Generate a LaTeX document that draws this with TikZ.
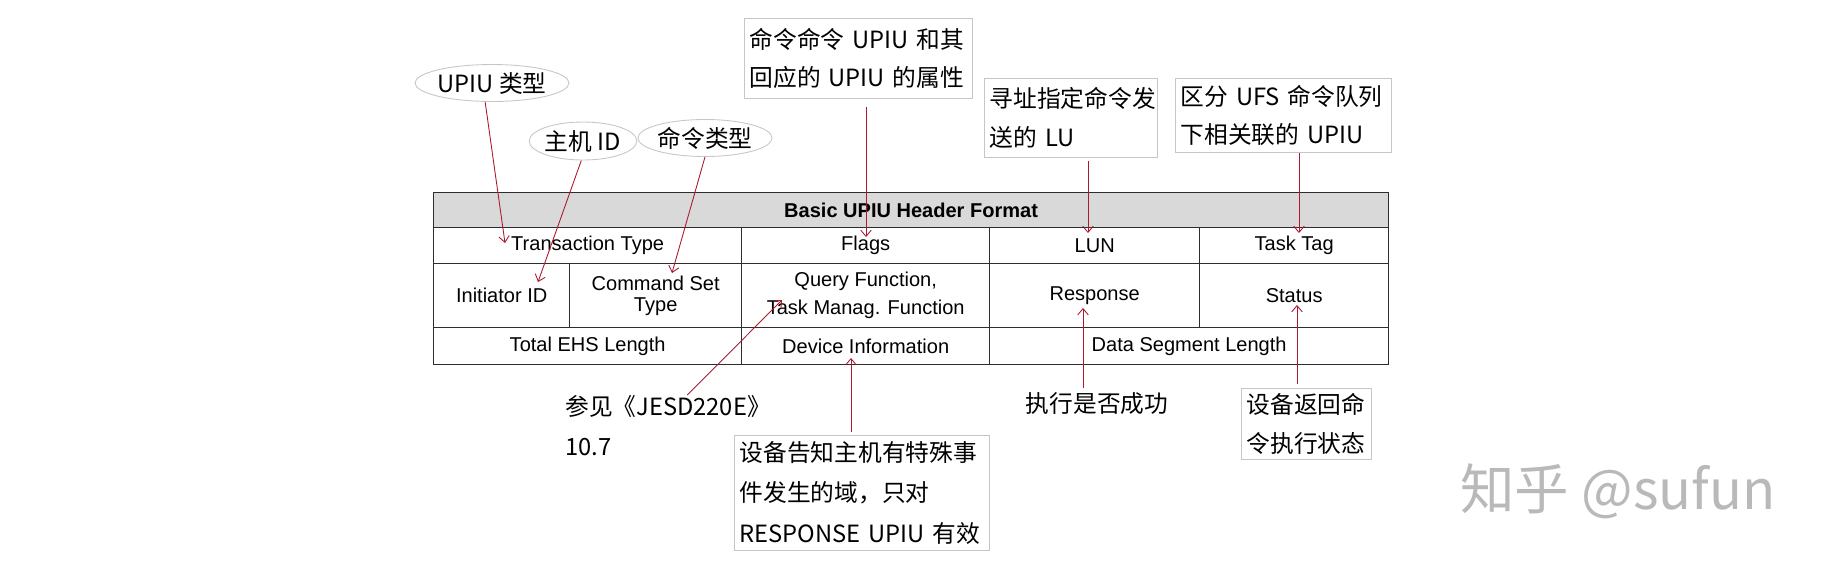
\documentclass[tikz,border=0pt]{standalone}
\usepackage{fontspec}
\setmainfont{Liberation Sans}
\newfontfamily\cjk{Noto Sans CJK SC}
\usetikzlibrary{arrows.meta, positioning, shapes.geometric, calc}

\definecolor{arrowred}{RGB}{170,25,45}
\definecolor{tabline}{RGB}{45,45,45}
\definecolor{headgray}{RGB}{217,217,217}
\newcommand{\tabfont}{\fontsize{11.4}{13}\selectfont}
\newcommand{\notefont}{\cjk\fontsize{13.5}{22}\selectfont}

\tikzset{
  cell/.style={draw=tabline, line width=0.8pt, anchor=north west, inner sep=0pt, align=center, font=\tabfont},
  notebox/.style={draw=gray!45, line width=0.5pt, anchor=north west, inner sep=3pt, align=left, font=\notefont},
  tagoval/.style={ellipse, draw=gray!45, line width=0.5pt, inner sep=0pt, font=\notefont},
  callout/.style={draw=arrowred, line width=0.5pt, -{Straight Barb[length=3.5pt,width=6pt]}}
}

\begin{document}
\begin{tikzpicture}[x=0.02cm, y=-0.02cm]
                \useasboundingbox (0,0) rectangle (1826,566);

                % Header table
                \node[cell, fill=headgray, minimum width=19.1cm, minimum height=0.7cm] (head) at (433,192) {\textbf{Basic UPIU Header Format}};

                \node[cell, minimum width=6.16cm, minimum height=0.72cm] (ttype) at (433,227) {Transaction Type};
                \node[cell, minimum width=4.96cm, minimum height=0.72cm] (flags) at (741,227) {Flags};
                \node[cell, minimum width=4.2cm, minimum height=0.72cm] (lun) at (989,227) {LUN};
                \node[cell, minimum width=3.78cm, minimum height=0.72cm] (tasktag) at (1199,227) {Task Tag};

                \node[cell, minimum width=2.72cm, minimum height=1.28cm] (initid) at (433,263) {Initiator ID};
                \node[cell, minimum width=3.44cm, minimum height=1.28cm, font=\fontsize{11.4}{12}\selectfont] (cmdset) at (569,263) {Command Set\\Type};
                \node[cell, minimum width=4.96cm, minimum height=1.28cm, font=\fontsize{11.4}{16}\selectfont] (queryfn) at (741,263) {Query Function,\\Task Manag. Function};
                \node[cell, minimum width=4.2cm, minimum height=1.28cm] (resp) at (989,263) {Response};
                \node[cell, minimum width=3.78cm, minimum height=1.28cm] (status) at (1199,263) {Status};

                \node[cell, minimum width=6.16cm, minimum height=0.74cm] (ehs) at (433,327) {Total EHS Length};
                \node[cell, minimum width=4.96cm, minimum height=0.74cm] (devinfo) at (741,327) {Device Information};
                \node[cell, minimum width=7.98cm, minimum height=0.74cm] (dseg) at (989,327) {Data Segment Length};

                % Arrow tips inside the cells
                \coordinate (tipTrans) at (505,243);
                \coordinate (tipInit) at (538,282);
                \coordinate (tipCmd) at (672,273);
                \coordinate (tipFlags) at (866,237);
                \coordinate (tipQuery) at (782,300);
                \coordinate (tipDev) at (851,358);
                \coordinate (tipLun) at (1088,233);
                \coordinate (tipTag) at (1299,233);
                \coordinate (tipResp) at (1083,308);
                \coordinate (tipStat) at (1297,305);

                % Callouts above
                \node[tagoval, minimum width=2.64cm, minimum height=0.74cm] (typeoval) at (492,83) {UPIU 类型};
                \node[tagoval, minimum width=1.96cm, minimum height=0.76cm] (hostoval) at (583,141) {主机 ID};
                \node[tagoval, minimum width=2.28cm, minimum height=0.74cm] (cmdoval) at (705,138) {命令类型};

                \node[notebox, text width=4.35cm, minimum height=1.6cm] (attrbox) at (744,18) {命令命令 UPIU 和其\\回应的 UPIU 的属性};
                \node[notebox, text width=3.25cm, minimum height=1.58cm] (lubox) at (984,78) {寻址指定命令发\\送的 LU};
                \node[notebox, text width=4.1cm, minimum height=1.48cm] (tagbox) at (1175,78) {区分 UFS 命令队列\\下相关联的 UPIU};

                % Callouts below
                \node[align=left, anchor=north west, inner sep=0pt, font=\cjk\fontsize{13.5}{23}\selectfont] (refnote) at (565,395) {参见《JESD220E》\\10.7};
                \node[notebox, text width=4.89cm, minimum height=2.3cm, font=\cjk\fontsize{13.5}{23}\selectfont] (devbox) at (734,435) {设备告知主机有特殊事\\件发生的域，只对\\RESPONSE UPIU 有效};
                \node[font=\notefont, inner sep=0pt] (succnote) at (1097,404) {执行是否成功};
                \node[notebox, text width=2.39cm, minimum height=1.4cm] (statbox) at (1241,388) {设备返回命\\令执行状态};

                % Connectors
                \draw[callout] (typeoval.250) -- (tipTrans);
                \draw[callout] (hostoval.265) -- (tipInit);
                \draw[callout] (cmdoval.south) -- (tipCmd);
                \draw[callout] ($(attrbox.south -| tipFlags)+(0,8)$) -- (tipFlags);
                \draw[callout] ($(lubox.south -| tipLun)+(0,3)$) -- (tipLun);
                \draw[callout] (tagbox.south -| tipTag) -- (tipTag);
                \draw[callout] (refnote.58) -- (tipQuery);
                \draw[callout] ($(devbox.north -| tipDev)+(0,-3)$) -- (tipDev);
                \draw[callout] ($(succnote.north -| tipResp)+(0,-5)$) -- (tipResp);
                \draw[callout] ($(statbox.north -| tipStat)+(0,-4)$) -- (tipStat);

                % Watermark
                \node[font=\cjk\fontsize{31}{31}\selectfont, text=gray!55] (mark) at (1618,491) {知乎 @sufun};
            \end{tikzpicture}
\end{document}
